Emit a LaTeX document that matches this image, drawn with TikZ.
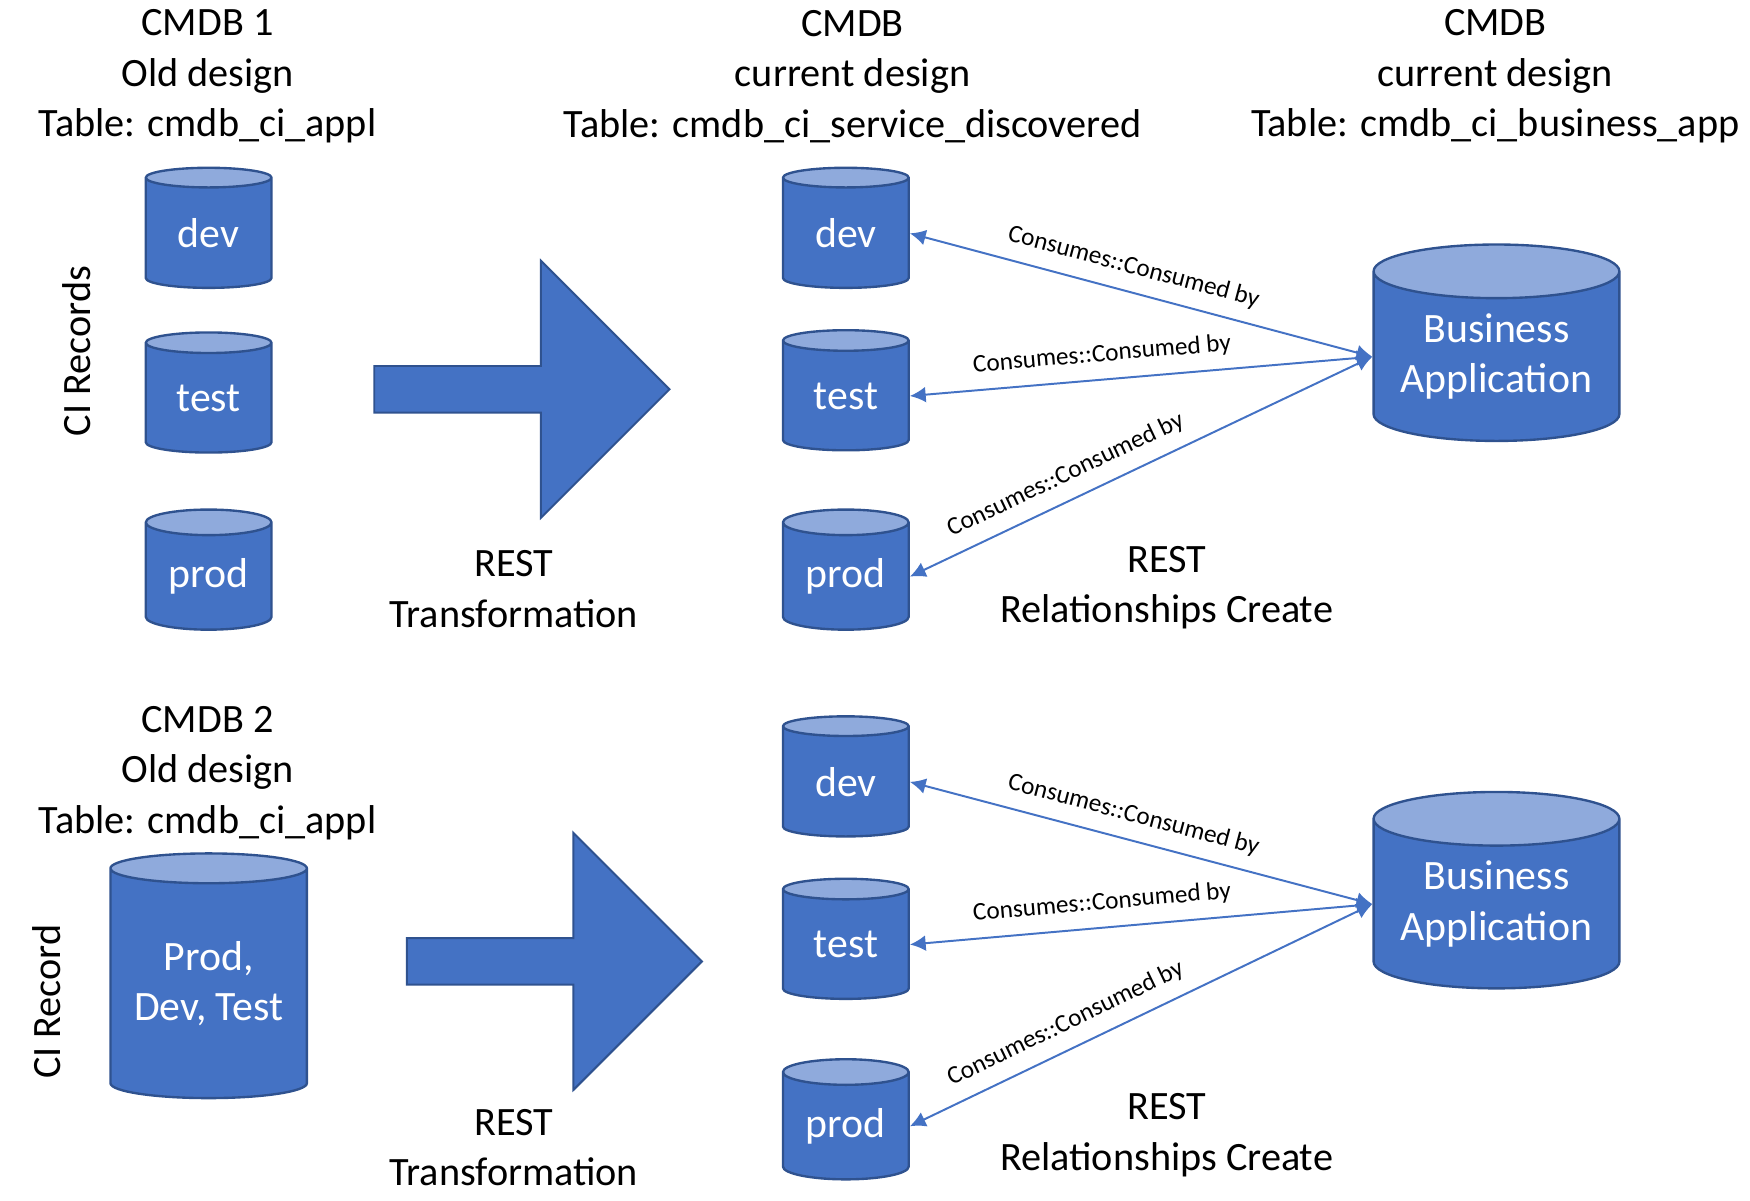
\documentclass[tikz,border=0pt]{standalone}
\usepackage{fontspec}
\setmainfont{Carlito}
\usepackage{xcolor}
\usetikzlibrary{arrows.meta,positioning,shapes.geometric,shapes.arrows}
\definecolor{dbfill}{HTML}{4472C4}
\definecolor{dbtop}{HTML}{8FAADC}
\definecolor{dbline}{HTML}{2F528F}
\begin{document}
\begin{tikzpicture}[
      x=0.01cm, y=-0.01cm,
      db/.style={cylinder, shape border rotate=90, aspect=0.32, draw=dbline, line width=0.6pt,
        cylinder uses custom fill, cylinder body fill=dbfill, cylinder end fill=dbtop,
        text=white, inner sep=0pt, font=\fontsize{10.6}{12.8}\selectfont, align=center},
      smalldb/.style={db, minimum width=1.12cm, minimum height=1.07cm},
      bigdb/.style={db, minimum width=2.19cm, minimum height=1.75cm, aspect=0.28},
      title/.style={align=center, font=\fontsize{10.2}{12.8}\selectfont},
      bigarrow/.style={single arrow, fill=dbfill, draw=dbline, line width=0.5pt, minimum height=2.63cm,
        minimum width=2.29cm, single arrow head extend=0.57cm, single arrow tip angle=90, anchor=tip},
      rel/.style={dbfill, line width=0.5pt, {Latex[length=4pt,width=4pt]}-{Latex[length=4pt,width=4pt]}},
      lbl/.style={sloped, above, font=\fontsize{6.4}{7}\selectfont, text=black}
    ]
      \useasboundingbox (0,0) rectangle (1560,1070);
      % titles
      \node[title] (t1) at (185,68) {CMDB 1\\Old design\\Table: cmdb\_ci\_appl};
      \node[title] (t2) at (760,68) {CMDB\\current design\\Table: cmdb\_ci\_service\_discovered};
      \node[title] (t3) at (1333,68) {CMDB\\current design\\Table: cmdb\_ci\_business\_app};
      \node[title] (t4) at (185,689) {CMDB 2\\Old design\\Table: cmdb\_ci\_appl};
      \node[title, rotate=90] (ci1) at (68,313) {CI Records};
      \node[title, rotate=90] (ci2) at (42,893) {CI Record};
      % old design
      \node[smalldb] (odev) at (186,208) {dev};
      \node[smalldb] (otest) at (186,355) {test};
      \node[smalldb] (oprod) at (186,514) {prod};
      \node[db, minimum width=1.75cm, minimum height=2.18cm, aspect=0.2] (oall) at (186,877) {Prod,\\Dev, Test};
      % transformations
      \node[bigarrow] (arr1) at (598,347) {};
      \node[bigarrow] (arr2) at (627,857) {};
      \node[title] (rt1) at (458,525) {REST\\Transformation};
      \node[title] (rt2) at (458,1023) {REST\\Transformation};
      % current design, top
      \node[smalldb] (dev1) at (754,208) {dev};
      \node[smalldb] (test1) at (754,353) {test};
      \node[smalldb] (prod1) at (754,514) {prod};
      \node[bigdb] (ba1) at (1334,318) {Business\\Application};
      \draw[rel] (dev1.east) -- node[lbl, pos=0.47] {Consumes::Consumed by} (ba1.west);
      \draw[rel] (test1.east) -- node[lbl, pos=0.42] {Consumes::Consumed by} (ba1.west);
      \draw[rel] (prod1.east) -- node[lbl, pos=0.36] {Consumes::Consumed by} (ba1.west);
      \node[title] (rr1) at (1040,524) {REST\\Relationships Create};
      % current design, bottom
      \node[smalldb] (dev2) at (754,697) {dev};
      \node[smalldb] (test2) at (754,842) {test};
      \node[smalldb] (prod2) at (754,1004) {prod};
      \node[bigdb] (ba2) at (1334,806) {Business\\Application};
      \draw[rel] (dev2.east) -- node[lbl, pos=0.47] {Consumes::Consumed by} (ba2.west);
      \draw[rel] (test2.east) -- node[lbl, pos=0.42] {Consumes::Consumed by} (ba2.west);
      \draw[rel] (prod2.east) -- node[lbl, pos=0.36] {Consumes::Consumed by} (ba2.west);
      \node[title] (rr2) at (1040,1012) {REST\\Relationships Create};
\end{tikzpicture}
\end{document}
